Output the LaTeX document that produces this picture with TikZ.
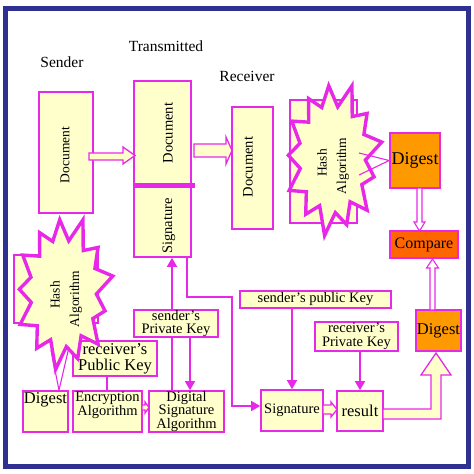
\documentclass[tikz,border=0pt]{standalone}
\usepackage{fontspec}
\setmainfont{Liberation Serif}
\usepackage{graphicx}
\usetikzlibrary{arrows.meta}
\definecolor{mag}{RGB}{232,40,232}
\definecolor{pale}{RGB}{255,255,204}
\definecolor{dorange}{RGB}{255,153,0}
\definecolor{corange}{RGB}{255,102,0}
\definecolor{frameblue}{RGB}{46,49,146}
\pgfdeclarelayer{bg}
\pgfsetlayers{bg,main}
\newcommand\fTitle{\fontsize{15.5}{16}\selectfont}
\newcommand\fBox{\fontsize{14.5}{13.8}\selectfont}
\newcommand\fBig{\fontsize{16.5}{16}\selectfont}
\newcommand\fHash{\fontsize{13.5}{14}\selectfont}
\tikzset{
  box/.style={draw=mag, line width=1.6pt, fill=pale, inner sep=0pt, align=center, font=\fBox},
  orbox/.style={box, fill=dorange},
  conn/.style={draw=mag, line width=1.4pt},
  arr/.style={conn, -{Triangle[width=10pt,length=9pt]}},
  hollow/.style={draw=mag, line width=1.3pt, fill=pale, line join=miter},
  starline/.style={draw=mag, line width=3.4pt, fill=pale, line join=miter, miter limit=4},
  lbl/.style={inner sep=0pt, align=center, font=\fBox},
}
\newcommand\myhashstar[1]{%
  \begin{scope}[shift={#1}, x=47pt, y=-74pt]
    \path[starline] (293:1.06) -- (306.85:0.7) -- (320.69:0.95) -- (334.54:0.74)
      -- (348.38:1.07) -- (2.23:0.7) -- (16.08:0.92) -- (29.92:0.72) -- (43.77:1.02)
      -- (57.62:0.7) -- (71.46:0.95) -- (85.31:0.74) -- (99.15:1.06) -- (113.0:0.7)
      -- (126.85:0.95) -- (140.69:0.72) -- (154.54:1.02) -- (168.38:0.7)
      -- (182.23:0.94) -- (196.08:0.72) -- (209.92:1.0) -- (223.77:0.7)
      -- (237.62:0.95) -- (251.46:0.72) -- (265.31:0.98) -- (279.15:0.7) -- cycle;
  \end{scope}}
\begin{document}
\begin{tikzpicture}[x=1pt, y=-1pt]
\begin{pgfonlayer}{bg}
\useasboundingbox (0,0) rectangle (474,474);
\fill[white] (0,0) rectangle (474,474);
\draw[frameblue, line width=5pt] (5.5,8.5) rectangle (468.5,466.5);
\end{pgfonlayer}

% titles
\node[font=\fTitle] (tsender) at (62,62) {Sender};
\node[font=\fTitle] (ttrans) at (166,46) {Transmitted};
\node[font=\fTitle] (trecv) at (247,76) {Receiver};

% sender document
\node[box, minimum width=54pt, minimum height=121pt] (sdoc) at (66,152.5) {};
\node[lbl, rotate=90, font=\fontsize{13.5}{14}\selectfont] (sdoct) at (65,155) {Document};

% transmitted
\node[box, minimum width=57pt, minimum height=176pt] (tbox) at (162.5,169) {};
\node[lbl, rotate=90] (tdoct) at (168,133) {Document};
\node[lbl, rotate=90] (tsigt) at (169,226) {Signature};
\coordinate (barend) at (195,185.5);
\draw[mag, line width=5pt] (tbox.west |- barend) -- (barend);

% receiver document
\node[box, minimum width=41pt, minimum height=122pt] (rdoc) at (252.5,168) {};
\node[lbl, rotate=90] (rdoct) at (248,167) {Document};

% block arrows
\path[hollow] (89,153) -- (123,153) -- (123,147) -- (135,155.5) -- (123,164) -- (123,160) -- (89,160) -- cycle;
\path[hollow] (194,144) -- (226,144) -- (226,137) -- (232,150.5) -- (226,164) -- (226,157) -- (194,157) -- cycle;

% receiver hash
\node[box, minimum width=67pt, minimum height=123pt] (rhbox) at (323.5,161.5) {};
\myhashstar{(332.5,158)}
\node[lbl, rotate=90, font=\fHash] (rhash) at (322,163) {Hash};
\node[lbl, rotate=90, font=\fHash] (ralg) at (343,166) {Algorithm};
\coordinate (rs1) at (359,153);
\coordinate (rs2) at (359,175);

\node[orbox, minimum width=50pt, minimum height=55pt, font=\fontsize{18}{18}\selectfont] (dig1) at (415,160.5) {Digest};
\draw[conn, line width=1.1pt] (rs1) -- (dig1.west) -- (rs2);

\node[box, fill=corange, minimum width=68pt, minimum height=27pt, font=\fontsize{16}{16}\selectfont] (cmp) at (424,244.5) {Compare};
\path[hollow, fill=white, line width=1.1pt] (417,188) -- (417,222) -- (414,222) -- (419.5,231) -- (425,222) -- (422,222) -- (422,188) -- cycle;

\node[orbox, minimum width=45pt, minimum height=41pt, font=\fBig] (dig2) at (438.5,330.5) {Digest};
\path[hollow, fill=white, line width=1.1pt] (430,310) -- (430,268) -- (426.5,268) -- (432.5,259) -- (438.5,268) -- (435,268) -- (435,310) -- cycle;

% receiver bottom row
\node[box, minimum width=151pt, minimum height=17pt] (spk) at (315.5,299.5) {sender's public Key};
\node[box, minimum width=83pt, minimum height=29pt] (rpk) at (356.5,336.5) {receiver's\\Private Key};
\node[box, minimum width=62pt, minimum height=41pt] (rsig) at (292,410.5) {Signature};
\node[box, minimum width=46pt, minimum height=40pt, font=\fBig] (res) at (360,411) {result};
\draw[arr] ([xshift=-23.5pt]spk.south) -- (rsig.north);
\draw[arr] ([xshift=3.5pt]rpk.south) -- (res.north);
\path[hollow] (323,405) -- (331,405) -- (331,402) -- (337,409.5) -- (331,417) -- (331,414) -- (323,414) -- cycle;
\path[hollow] (383,409) -- (431,409) -- (431,375) -- (421,375) -- (436,353) -- (451,375) -- (441,375) -- (441,419) -- (383,419) -- cycle;

% sender bottom
\node[box, minimum width=84pt, minimum height=27pt] (sprk) at (176,323.5) {sender's\\Private Key};
\node[box, minimum width=75pt, minimum height=41pt] (dsa) at (186.5,411.5) {Digital\\Signature\\Algorithm};
\draw[arr] ([xshift=14pt]sprk.south) -- ([xshift=3.5pt]dsa.north);

\node[box, minimum width=84pt, minimum height=35pt, font=\fBig] (rpub) at (115,358.5) {receiver's\\Public Key};
\node[box, minimum width=69pt, minimum height=41pt] (enc) at (107.5,411.5) {};
\node[lbl] (enct) at (107.5,405) {Encryption\\Algorithm};
\draw[conn] ([xshift=-8pt]rpub.south) -- ([xshift=-0.5pt]enc.north);
\path[hollow] (142,405) -- (145,405) -- (145,402) -- (149,407.5) -- (145,413) -- (145,410) -- (142,410) -- cycle;

\node[box, minimum width=45pt, minimum height=41pt] (dig3) at (45.5,411.5) {};
\node[lbl, font=\fBig] (dig3t) at (45.5,400) {Digest};

% sender hash
\node[box, minimum width=84pt, minimum height=68pt] (shbox) at (56,289) {};
\myhashstar{(63.5,292)}
\node[lbl, rotate=90, font=\fHash] (shash) at (55,295) {Hash};
\node[lbl, rotate=90, font=\fHash] (salg) at (76,299) {Algorithm};
\coordinate (ss1) at (51,350);
\coordinate (ss2) at (69,347);
\draw[conn, line width=1.1pt] (ss1) -- ([xshift=13.5pt]dig3.north) -- (ss2);

% connectors behind boxes
\begin{pgfonlayer}{bg}
\coordinate (bend1) at (232,297);
\draw[arr] ([xshift=24.5pt]tbox.south) |- (bend1) |- ([yshift=4.5pt]rsig.west);
\draw[arr] ([xshift=-14.5pt]dsa.north) -- ([xshift=9.5pt]tbox.south);
\end{pgfonlayer}
\end{tikzpicture}
\end{document}
